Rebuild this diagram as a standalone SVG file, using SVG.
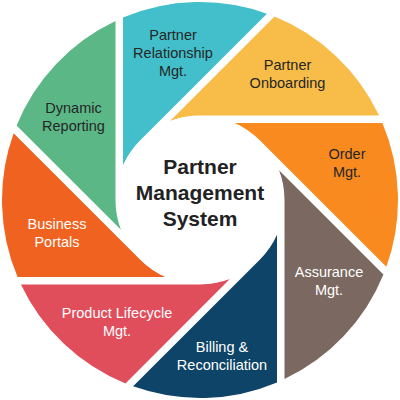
<svg xmlns="http://www.w3.org/2000/svg" xmlns:xlink="http://www.w3.org/1999/xlink" width="400" height="400" viewBox="0 0 400 400">
<style>
.lbl{font-family:"Liberation Sans",Arial,sans-serif;font-size:14.5px;text-anchor:middle}
.dk{fill:#262626}
.wh{fill:#ffffff}
.ctr{font-family:"Liberation Sans",Arial,sans-serif;font-size:21px;font-weight:bold;text-anchor:middle;fill:#222222}
</style>
<defs>
<path id="seg" d="M123,17.59 A198,198 0 0 1 266.87,13.63 L140.25,140.25 A84.5,84.5 0 0 0 123,165.2 Z"/>
</defs>
<rect width="400" height="400" fill="#ffffff"/>
<g id="partner-relationship">
<use href="#seg" xlink:href="#seg" fill="#42BFCA"/>
<text class="lbl dk" x="173" y="39.5">Partner</text>
<text class="lbl dk" x="173" y="57.5">Relationship</text>
<text class="lbl dk" x="173" y="76">Mgt.</text>
</g>
<g id="partner-onboarding">
<use href="#seg" xlink:href="#seg" fill="#F7BD48" transform="rotate(45 200 200)"/>
<text class="lbl dk" x="287.5" y="69.5">Partner</text>
<text class="lbl dk" x="287.5" y="87.5">Onboarding</text>
</g>
<g id="order-mgt">
<use href="#seg" xlink:href="#seg" fill="#F98A1F" transform="rotate(90 200 200)"/>
<text class="lbl dk" x="347" y="159">Order</text>
<text class="lbl dk" x="347" y="177">Mgt.</text>
</g>
<g id="assurance-mgt">
<use href="#seg" xlink:href="#seg" fill="#7B6860" transform="rotate(135 200 200)"/>
<text class="lbl wh" x="329" y="277">Assurance</text>
<text class="lbl wh" x="329" y="295">Mgt.</text>
</g>
<g id="billing">
<use href="#seg" xlink:href="#seg" fill="#0E4467" transform="rotate(180 200 200)"/>
<text class="lbl wh" x="222" y="352">Billing &amp;</text>
<text class="lbl wh" x="222" y="370">Reconciliation</text>
</g>
<g id="product-lifecycle">
<use href="#seg" xlink:href="#seg" fill="#E14E5B" transform="rotate(225 200 200)"/>
<text class="lbl wh" x="117" y="318">Product Lifecycle</text>
<text class="lbl wh" x="117" y="336">Mgt.</text>
</g>
<g id="business-portals">
<use href="#seg" xlink:href="#seg" fill="#F06220" transform="rotate(270 200 200)"/>
<text class="lbl wh" x="57" y="229">Business</text>
<text class="lbl wh" x="57" y="247">Portals</text>
</g>
<g id="dynamic-reporting">
<use href="#seg" xlink:href="#seg" fill="#5BB886" transform="rotate(315 200 200)"/>
<text class="lbl dk" x="73.5" y="112.5">Dynamic</text>
<text class="lbl dk" x="73.5" y="130.5">Reporting</text>
</g>
<g id="center">
<circle cx="200" cy="200" r="84" fill="#ffffff"/>
<text class="ctr" x="200" y="174">Partner</text>
<text class="ctr" x="200" y="200">Management</text>
<text class="ctr" x="200" y="226">System</text>
</g>
</svg>
